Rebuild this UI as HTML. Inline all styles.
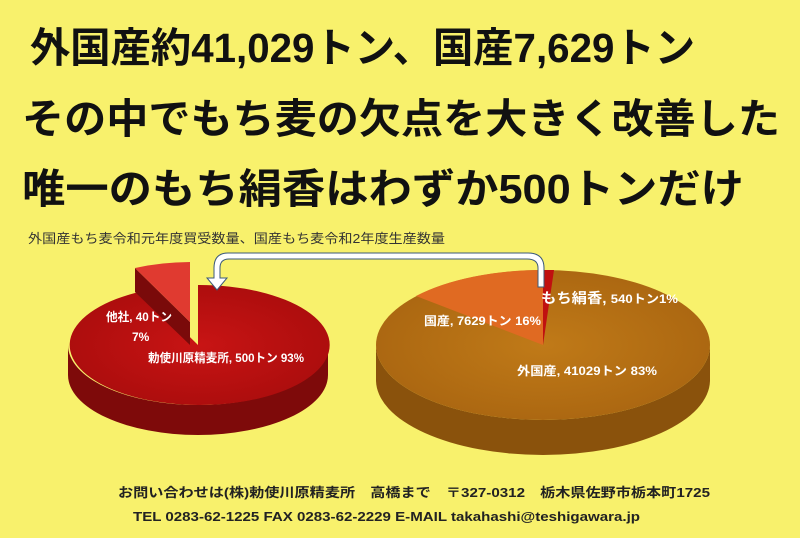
<!DOCTYPE html>
<html><head><meta charset="utf-8"><style>
body{margin:0;width:800px;height:538px;background:#f8f16c;overflow:hidden}
svg{display:block}
</style></head><body>
<svg width="800" height="538" viewBox="0 0 800 538" font-family="Liberation Sans, 'Noto Sans CJK JP', sans-serif">
<defs>
<radialGradient id="rg" cx="0.5" cy="0.5" r="0.6"><stop offset="0" stop-color="#c81414"/><stop offset="1" stop-color="#a80c0c"/></radialGradient>
<radialGradient id="bg" cx="0.5" cy="0.5" r="0.6"><stop offset="0" stop-color="#c07a18"/><stop offset="1" stop-color="#a86410"/></radialGradient>
</defs>
<g font-weight="bold" font-size="41" fill="#111">
<text x="30" y="62" textLength="665" lengthAdjust="spacingAndGlyphs">外国産約41,029トン、国産7,629トン</text>
<text x="22" y="133" textLength="758" lengthAdjust="spacingAndGlyphs">その中でもち麦の欠点を大きく改善した</text>
<text x="22" y="203" textLength="722" lengthAdjust="spacingAndGlyphs">唯一のもち絹香はわずか500トンだけ</text>
</g>
<text x="28" y="243" font-size="13" fill="#333" textLength="417" lengthAdjust="spacingAndGlyphs">外国産もち麦令和元年度買受数量、国産もち麦令和2年度生産数量</text>

<!-- left pie -->
<path d="M68,345 A130,60 0 0 0 328,345 L328,375 A130,60 0 0 1 68,375 Z" fill="#7e0a0a"/>
<path d="M198,345 L198,285 A130,60 0 1 1 143,291 Z" fill="url(#rg)"/>
<path d="M135,268 L135,292 L190,345 L190,322 Z" fill="#7a0a0a"/>
<path d="M190,322 L190,262 A130,60 0 0 0 135,268 Z" fill="#e03a30"/>
<g font-size="12" fill="#fff" font-weight="bold">
<text x="106" y="321" textLength="66" lengthAdjust="spacingAndGlyphs">他社, 40トン</text>
<text x="132" y="341">7%</text>
<text x="148" y="362" textLength="156" lengthAdjust="spacingAndGlyphs">勅使川原精麦所, 500トン 93%</text>
</g>

<!-- right pie -->
<path d="M376,345 A167,75 0 0 0 710,345 L710,380 A167,75 0 0 1 376,380 Z" fill="#8a520c"/>
<ellipse cx="543" cy="345" rx="167" ry="75" fill="url(#bg)"/>
<path d="M543,345 L543,270 A167,75 0 0 0 416,296 Z" fill="#e06a22"/>
<path d="M543,345 L543,270 A167,75 0 0 1 554,270 Z" fill="#c01010"/>
<g fill="#fff" font-weight="bold">
<text x="541" y="303" font-size="14" textLength="137" lengthAdjust="spacingAndGlyphs">もち絹香, <tspan font-size="12">540トン1%</tspan></text>
<text x="424" y="325" font-size="12" textLength="117" lengthAdjust="spacingAndGlyphs">国産, 7629トン 16%</text>
<text x="517" y="375" font-size="12" textLength="140" lengthAdjust="spacingAndGlyphs">外国産, 41029トン 83%</text>
</g>

<!-- arrow -->
<path d="M544,287 L544,268 Q544,253 528,253 L228,253 Q214,253 214,268 L214,278 L207,278 L217,290 L227,278 L220,278 L220,268 Q220,259 229,259 L527,259 Q538,259 538,268 L538,287 Z" fill="#fff" stroke="#3c5a7a" stroke-width="1"/>

<g font-size="13" font-weight="bold" fill="#222">
<text x="118" y="497" textLength="592" lengthAdjust="spacingAndGlyphs">お問い合わせは(株)勅使川原精麦所　高橋まで　〒327-0312　栃木県佐野市栃本町1725</text>
<text x="133" y="521" textLength="507" lengthAdjust="spacingAndGlyphs">TEL 0283-62-1225  FAX 0283-62-2229  E-MAIL  takahashi@teshigawara.jp</text>
</g>
</svg>
</body></html>
